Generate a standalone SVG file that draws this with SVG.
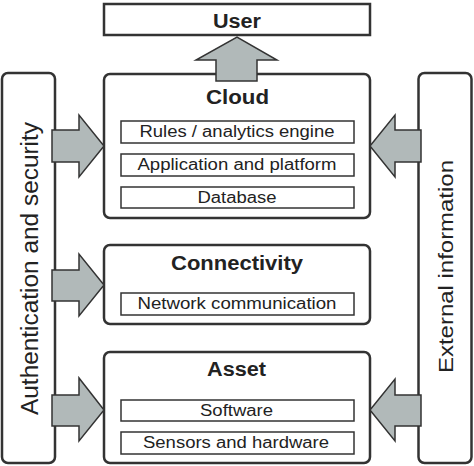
<svg xmlns="http://www.w3.org/2000/svg" width="474" height="466" viewBox="0 0 474 466">
<style>
.box{fill:#fff;stroke:#333;stroke-width:2.5}
.inner{fill:#fff;stroke:#333;stroke-width:1.5}
.arrow{fill:#b1b9b9;stroke:#333;stroke-width:1.5;stroke-linejoin:miter}
.t{font-family:"Liberation Sans",Arial,sans-serif;fill:#222;text-anchor:middle}
.title{font-size:20px;font-weight:bold}
.item{font-size:16px}
.sideL{font-size:23px}
.sideR{font-size:21px}
</style>
<rect width="474" height="466" fill="#fff"/>
<g id="user">
<rect class="box" x="104" y="4" width="266" height="31"/>
<text class="t title" x="237" y="28" textLength="48" lengthAdjust="spacingAndGlyphs">User</text>
</g>
<g id="auth">
<rect class="box" x="2" y="73" width="53" height="390" rx="6"/>
<text class="t sideL" transform="translate(37.5,268.5) rotate(-90)" textLength="293" lengthAdjust="spacingAndGlyphs">Authentication and security</text>
</g>
<g id="external">
<rect class="box" x="418.5" y="73" width="53" height="390" rx="6"/>
<text class="t sideR" transform="translate(453,266.5) rotate(-90)" textLength="213" lengthAdjust="spacingAndGlyphs">External information</text>
</g>
<g id="cloud">
<rect class="box" x="104" y="74" width="266" height="144" rx="6"/>
<text class="t title" x="237.5" y="104" textLength="63" lengthAdjust="spacingAndGlyphs">Cloud</text>
<rect class="inner" x="121" y="121" width="233" height="22"/>
<text class="t item" x="237" y="137" textLength="195" lengthAdjust="spacingAndGlyphs">Rules / analytics engine</text>
<rect class="inner" x="121" y="154" width="233" height="22"/>
<text class="t item" x="237" y="170" textLength="199" lengthAdjust="spacingAndGlyphs">Application and platform</text>
<rect class="inner" x="121" y="187" width="233" height="21"/>
<text class="t item" x="237" y="203" textLength="79" lengthAdjust="spacingAndGlyphs">Database</text>
</g>
<g id="connectivity">
<rect class="box" x="104" y="245" width="266" height="79" rx="6"/>
<text class="t title" x="237" y="270" textLength="132" lengthAdjust="spacingAndGlyphs">Connectivity</text>
<rect class="inner" x="121" y="293" width="233" height="22"/>
<text class="t item" x="237" y="309" textLength="199" lengthAdjust="spacingAndGlyphs">Network communication</text>
</g>
<g id="asset">
<rect class="box" x="104" y="352" width="266" height="111" rx="6"/>
<text class="t title" x="236.5" y="376" textLength="59" lengthAdjust="spacingAndGlyphs">Asset</text>
<rect class="inner" x="121" y="400" width="233" height="21"/>
<text class="t item" x="236.5" y="416" textLength="73" lengthAdjust="spacingAndGlyphs">Software</text>
<rect class="inner" x="121" y="432" width="233" height="22"/>
<text class="t item" x="236" y="448" textLength="186" lengthAdjust="spacingAndGlyphs">Sensors and hardware</text>
</g>
<g id="connectors">
<polygon class="arrow" points="216,81 216,60 196,60 237,37 277,60 257,60 257,81"/>
<polygon class="arrow" points="52,130 79,130 79,115 104,146 79,177 79,162 52,162"/>
<polygon class="arrow" points="52,270 79,270 79,254 104,285 79,316 79,301 52,301"/>
<polygon class="arrow" points="52,395 79,395 79,378 104,410 79,441 79,426 52,426"/>
<polygon class="arrow" points="421,130 395,130 395,115 370,146 395,177 395,162 421,162"/>
<polygon class="arrow" points="421,395 395,395 395,379 370,410 395,441 395,426 421,426"/>
</g>
</svg>
